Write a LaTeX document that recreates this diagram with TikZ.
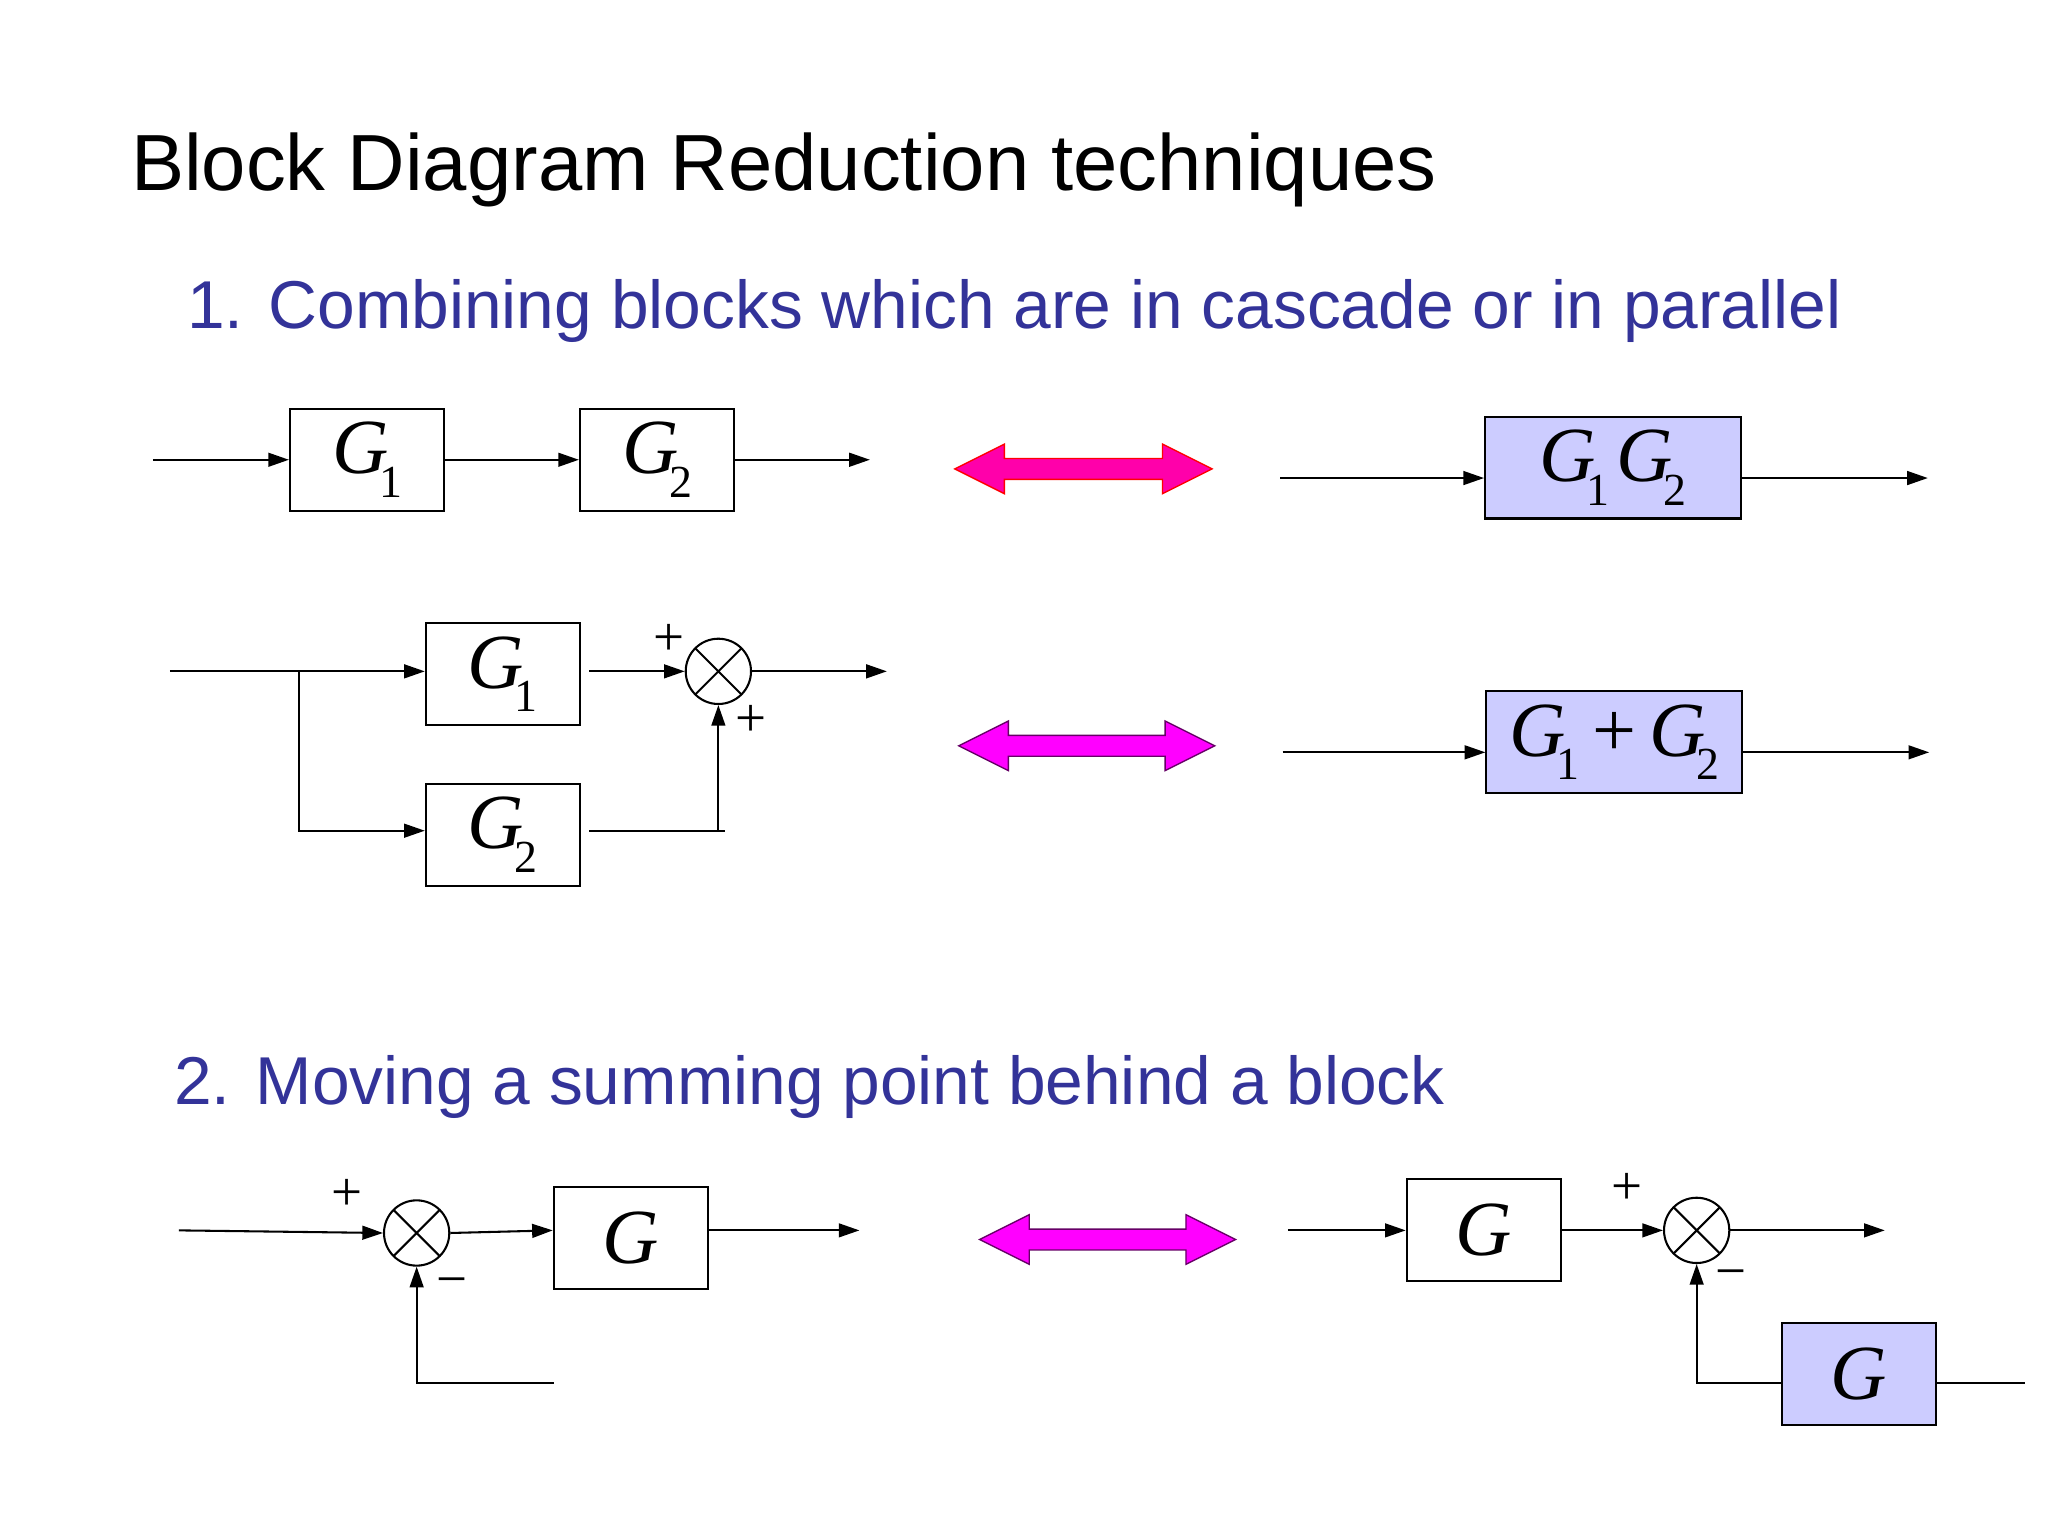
\documentclass[tikz,border=0pt]{standalone}
\usepackage{fontspec}
\setmainfont{Liberation Sans}
\newfontfamily\tnr{Liberation Serif}
\usetikzlibrary{arrows.meta}
\definecolor{hblue}{RGB}{51,51,153}
\definecolor{bfill}{RGB}{204,204,255}
\definecolor{pinkA}{RGB}{255,0,170}
\definecolor{magA}{RGB}{255,0,255}
\begin{document}
\begin{tikzpicture}[x=0.02cm,y=-0.02cm,
  blk/.style={draw,line width=0.9pt,minimum width=2.36cm,minimum height=1.56cm,inner sep=0pt,font=\tnr\fontsize{34}{34}\selectfont\itshape},
  bblk/.style={blk,fill=bfill},
  sum/.style={draw,circle,line width=0.9pt,minimum size=1cm,inner sep=0pt,
    path picture={\draw[line width=0.9pt] (path picture bounding box.south west)--(path picture bounding box.north east) (path picture bounding box.north west)--(path picture bounding box.south east);}},
  ar/.style={line width=0.9pt,-{Triangle[length=9pt,width=6pt]}},
  ln/.style={line width=0.9pt},
  sg/.style={font=\tnr\fontsize{24}{24}\selectfont},
  dbl/.style={line width=0.6pt}]
\useasboundingbox (0,0) rectangle (1568,1176);
\fill[white] (0,0) rectangle (1568,1176);
\node[anchor=west,font=\fontsize{34.7}{40}\selectfont,inner sep=0pt] (title) at (100,130) {Block Diagram Reduction techniques};
\node[anchor=west,font=\fontsize{29.5}{34}\selectfont,text=hblue,inner sep=0pt] (h1) at (143,238) {1. Combining blocks which are in cascade or in parallel};
\node[anchor=west,font=\fontsize{29.5}{34}\selectfont,text=hblue,inner sep=0pt] (h2) at (133,832) {2. Moving a summing point behind a block};
\newcommand{\subn}[1]{\kern-0.12em\raisebox{-0.3em}{\upshape\fontsize{20}{20}\selectfont #1}}
% row 1
\coordinate (i1) at (117,352);
\node[blk] (a1) at (281,352) {G\subn{1}};
\node[blk] (a2) at (503,352) {G\subn{2}};
\coordinate (o1) at (666,352);
\draw[ar] (i1)--(a1.west);
\draw[ar] (a1.east)--(a2.west);
\draw[ar] (a2.east)--(o1);
\draw[dbl,draw=red,fill=pinkA] (731,359)--(769,340)--(769,351)--(890,351)--(890,340)--(928,359)--(890,378)--(890,367)--(769,367)--(769,378)--cycle;
\coordinate (i1r) at (980,366);
\node[bblk,minimum width=3.92cm] (a12) at (1235,358) {G\subn{1}\kern0.1em G\subn{2}};
\coordinate (o1r) at (1476,366);
\draw[ar] (i1r)--(i1r-|a12.west);
\draw[ar] (o1r-|a12.east)--(o1r);
% row 2
\coordinate (i2) at (130,514);
\coordinate (br) at (229,514);
\node[blk] (b1) at (385,516) {G\subn{1}};
\node[blk] (b2) at (385,639) {G\subn{2}};
\node[sum] (s1) at (550,514) {};
\coordinate (o2) at (679,514);
\coordinate (b2o) at (451,636);
\coordinate (b2c) at (550,636);
\draw[ar] (i2)--(b1.west|-i2);
\draw[ar] (br)--(229,636)--(b2.west|-b2o);
\draw[ar] (451,514)--(s1.west);
\draw[ar] (s1.east)--(o2);
\draw[ln] (b2o)--(555,636);
\draw[ar] (b2c)--(s1.south);
\node[sg] (p1) at (512,490) {+};
\node[sg] (p2) at (575,552) {+};
\draw[dbl,draw=black!60!magA,fill=magA] (734,571)--(772,552)--(772,563)--(892,563)--(892,552)--(930,571)--(892,590)--(892,579)--(772,579)--(772,590)--cycle;
\coordinate (i2r) at (982,576);
\node[bblk,minimum width=3.92cm] (b12) at (1236,568) {G\subn{1}\,{\upshape+}\,G\subn{2}};
\coordinate (o2r) at (1477,576);
\draw[ar] (i2r)--(i2r-|b12.west);
\draw[ar] (o2r-|b12.east)--(o2r);
% row 3
\coordinate (i3) at (137,942);
\node[sum] (s3) at (319,944) {};
\node[blk] (c1) at (483,948) {G};
\coordinate (o3) at (658,942);
\coordinate (f3) at (424,1059);
\draw[ar] (i3)--(s3.west);
\draw[ar] (s3.east)--(c1.west|-o3);
\draw[ar] (c1.east|-o3)--(o3);
\draw[ar] (f3)--(319,1059)--(s3.south);
\node[sg] (p3) at (266,915) {+};
\node[sg] (m3) at (346,986) {\textminus};
\draw[dbl,draw=black!60!magA,fill=magA] (750,949)--(788,930)--(788,941)--(908,941)--(908,930)--(946,949)--(908,968)--(908,957)--(788,957)--(788,968)--cycle;
\coordinate (i3r) at (986,942);
\node[blk] (d1) at (1136,942) {G};
\node[sum] (s4) at (1299,942) {};
\coordinate (o3r) at (1443,942);
\node[bblk] (d2) at (1423,1052) {G};
\coordinate (f4) at (1550,1059);
\draw[ar] (i3r)--(d1.west);
\draw[ar] (d1.east)--(s4.west);
\draw[ar] (s4.east)--(o3r);
\draw[ln] (f4)--(d2.east|-f4);
\draw[ar] (d2.west|-f4)--(1299,1059)--(s4.south);
\node[sg] (p4) at (1246,910) {+};
\node[sg] (m4) at (1325,980) {\textminus};
\end{tikzpicture}
\end{document}
